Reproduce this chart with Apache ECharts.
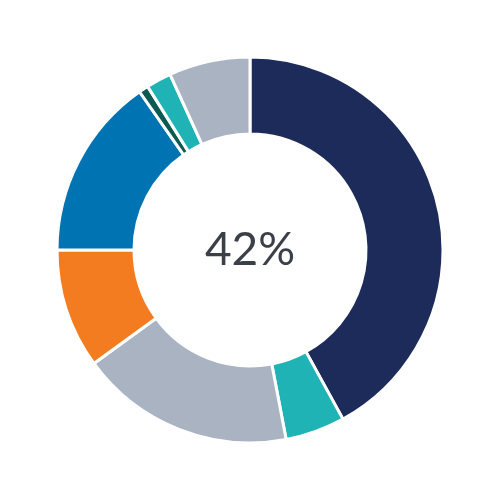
<!DOCTYPE html>
<html><head><meta charset="utf-8">
<script src="https://cdn.jsdelivr.net/npm/echarts@6/dist/echarts.min.js"></script>
<style>html,body{margin:0;padding:0;background:#fff}#c{width:500px;height:500px}</style>
</head><body><div id="c"></div>
<script>
var names = ['A','B','C','D','E','F','G','H'];
var values = [42, 5, 18, 10, 15.3, 0.8, 2.1, 6.8];
var colors = ['#1c2b5a','#1fb3b5','#a9b3c2','#f37c20','#0073b3','#0c5a52','#1fb3b5','#a9b3c2'];
var centerLabel = '42%';
var chart = echarts.init(document.getElementById('c'));
chart.setOption({
  animation: false,
  series: [{
    type: 'pie',
    center: ['50%','50%'],
    radius: ['46.4%','77.2%'],
    startAngle: 90,
    clockwise: true,
    avoidLabelOverlap: false,
    label: {show: false},
    labelLine: {show: false},
    itemStyle: {borderColor: '#fff', borderWidth: 3},
    data: names.map(function(n,i){return {name:n, value: values[i], itemStyle:{color: colors[i]}};})
  }],
  graphic: [{
    type: 'text', left: 'center', top: 'middle',
    style: {text: centerLabel, font: '46px Lato', fill: '#3b3f48', textAlign: 'center'}
  }]
});
</script></body></html>
